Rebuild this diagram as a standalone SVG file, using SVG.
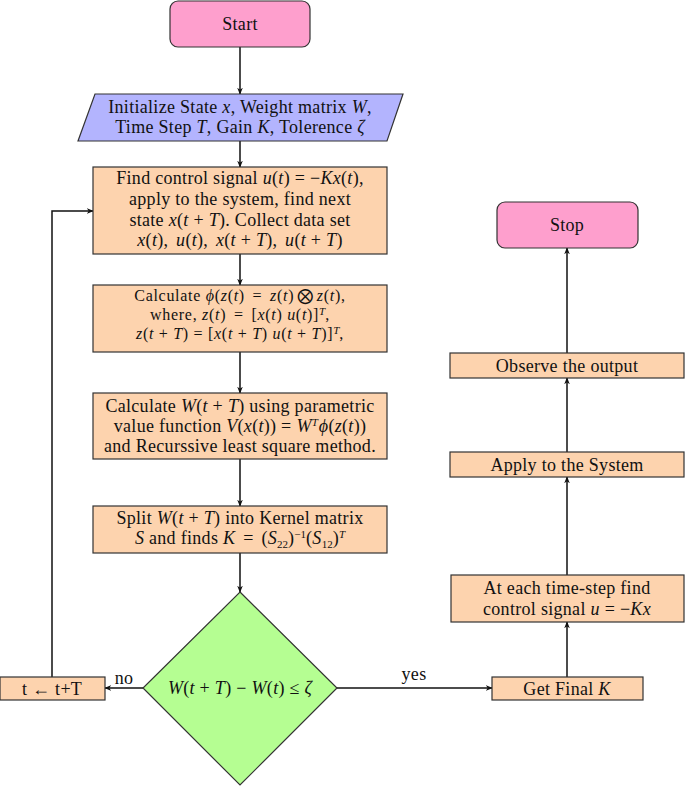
<svg xmlns="http://www.w3.org/2000/svg" width="685" height="786" viewBox="0 0 685 786">
<style>
text{font-family:"Liberation Serif","Times New Roman",serif;font-size:18px;fill:#111;text-anchor:middle;letter-spacing:0.3px}
.m{font-size:16px;letter-spacing:0.7px}
.i{font-style:italic}
.s{font-size:11px;letter-spacing:0}
.box{fill:#fdd3ae;stroke:#333;stroke-width:1.2}
.term{fill:#fe9fcd;stroke:#333;stroke-width:1.2}
.io{fill:#b3b4fe;stroke:#333;stroke-width:1.2}
.dec{fill:#b5fe92;stroke:#333;stroke-width:1.2}
.c{fill:none;stroke:#111;stroke-width:1.5}
</style>
<defs>
<marker id="ah" viewBox="0 0 10 10" refX="9" refY="5" markerWidth="7" markerHeight="7" orient="auto" markerUnits="userSpaceOnUse">
<path d="M0,1 L10,5 L0,9 L3,5 Z" fill="#111"/>
</marker>
</defs>
<g id="connectors">
<line class="c" x1="240" y1="47" x2="240" y2="94" marker-end="url(#ah)"/>
<line class="c" x1="240" y1="141" x2="240" y2="167" marker-end="url(#ah)"/>
<line class="c" x1="240" y1="254" x2="240" y2="285" marker-end="url(#ah)"/>
<line class="c" x1="240" y1="352" x2="240" y2="393" marker-end="url(#ah)"/>
<line class="c" x1="240" y1="459" x2="240" y2="506" marker-end="url(#ah)"/>
<line class="c" x1="240" y1="553" x2="240" y2="592" marker-end="url(#ah)"/>
<line class="c" x1="143" y1="688" x2="105" y2="688" marker-end="url(#ah)"/>
<polyline class="c" points="52,677 52,211 93,211" marker-end="url(#ah)"/>
<line class="c" x1="337" y1="688" x2="492" y2="688" marker-end="url(#ah)"/>
<line class="c" x1="567" y1="677" x2="567" y2="622" marker-end="url(#ah)"/>
<line class="c" x1="567" y1="575" x2="567" y2="477" marker-end="url(#ah)"/>
<line class="c" x1="567" y1="452" x2="567" y2="378" marker-end="url(#ah)"/>
<line class="c" x1="567" y1="353" x2="567" y2="248" marker-end="url(#ah)"/>
<text x="124" y="684">no</text>
<text x="414" y="680">yes</text>
</g>
<g id="start">
<rect class="term" x="170" y="1" width="140" height="46" rx="8"/>
<text x="240" y="30">Start</text>
</g>
<g id="init">
<polygon class="io" points="95,94 403,94 387,141 78,141"/>
<text x="240" y="113">Initialize State <tspan class="i">x</tspan>, Weight matrix <tspan class="i">W</tspan>,</text>
<text x="240" y="133">Time Step <tspan class="i">T</tspan>, Gain <tspan class="i">K</tspan>, Tolerence <tspan class="i">ζ</tspan></text>
</g>
<g id="control">
<rect class="box" x="93" y="167" width="294" height="87"/>
<text x="240" y="184">Find control signal <tspan class="i">u</tspan>(<tspan class="i">t</tspan>) = −<tspan class="i">Kx</tspan>(<tspan class="i">t</tspan>),</text>
<text x="240" y="205">apply to the system, find next</text>
<text x="240" y="226">state <tspan class="i">x</tspan>(<tspan class="i">t</tspan> + <tspan class="i">T</tspan>). Collect data set</text>
<text x="240" y="246"><tspan class="i">x</tspan>(<tspan class="i">t</tspan>), <tspan class="i" dx="3">u</tspan>(<tspan class="i">t</tspan>), <tspan class="i" dx="3">x</tspan>(<tspan class="i">t</tspan> + <tspan class="i">T</tspan>), <tspan class="i" dx="3">u</tspan>(<tspan class="i">t</tspan> + <tspan class="i">T</tspan>)</text>
</g>
<g id="phi">
<rect class="box" x="93" y="285" width="294" height="67"/>
<text class="m" x="240" y="301">Calculate <tspan class="i">ϕ</tspan>(<tspan class="i">z</tspan>(<tspan class="i">t</tspan>) <tspan dx="3">=</tspan> <tspan class="i" dx="3">z</tspan>(<tspan class="i">t</tspan>)<tspan font-family="DejaVu Sans,sans-serif" font-size="16" dx="3">⨂</tspan><tspan class="i" dx="3">z</tspan>(<tspan class="i">t</tspan>),</text>
<text class="m" x="240" y="319.5">where, <tspan class="i">z</tspan>(<tspan class="i">t</tspan>) <tspan dx="3">=</tspan> <tspan dx="3">[</tspan><tspan class="i">x</tspan>(<tspan class="i">t</tspan>) <tspan class="i">u</tspan>(<tspan class="i">t</tspan>)]<tspan class="i s" dy="-5">T</tspan><tspan dy="5">,</tspan></text>
<text class="m" x="240" y="338.5"><tspan class="i">z</tspan>(<tspan class="i">t</tspan> + <tspan class="i">T</tspan>) = [<tspan class="i">x</tspan>(<tspan class="i">t</tspan> + <tspan class="i">T</tspan>) <tspan class="i">u</tspan>(<tspan class="i">t</tspan> + <tspan class="i">T</tspan>)]<tspan class="i s" dy="-5">T</tspan><tspan dy="5">,</tspan></text>
</g>
<g id="calcW">
<rect class="box" x="93" y="393" width="294" height="66"/>
<text x="240" y="412">Calculate <tspan class="i">W</tspan>(<tspan class="i">t</tspan> + <tspan class="i">T</tspan>) using parametric</text>
<text x="240" y="432">value function <tspan class="i">V</tspan>(<tspan class="i">x</tspan>(<tspan class="i">t</tspan>)) = <tspan class="i">W</tspan><tspan class="i s" dy="-6">T</tspan><tspan class="i" dy="6" dx="1">ϕ</tspan>(<tspan class="i">z</tspan>(<tspan class="i">t</tspan>))</text>
<text x="240" y="452">and Recurssive least square method.</text>
</g>
<g id="split">
<rect class="box" x="93" y="506" width="294" height="47"/>
<text x="240" y="524">Split <tspan class="i">W</tspan>(<tspan class="i">t</tspan> + <tspan class="i">T</tspan>) into Kernel matrix</text>
<text x="240" y="544"><tspan class="i">S</tspan> and finds <tspan class="i">K</tspan> <tspan dx="3">=</tspan> <tspan dx="3">(</tspan><tspan class="i">S</tspan><tspan class="s" dy="4">22</tspan><tspan dy="-4">)</tspan><tspan class="s" dy="-6">−1</tspan><tspan dy="6">(</tspan><tspan class="i">S</tspan><tspan class="s" dy="4">12</tspan><tspan dy="-4">)</tspan><tspan class="i s" dy="-6">T</tspan></text>
</g>
<g id="decision">
<polygon class="dec" points="240,592 337,688 240,785 143,688"/>
<text x="240" y="694"><tspan class="i">W</tspan>(<tspan class="i">t</tspan> + <tspan class="i">T</tspan>) − <tspan class="i">W</tspan>(<tspan class="i">t</tspan>) ≤ <tspan class="i">ζ</tspan></text>
</g>
<g id="increment">
<rect class="box" x="0" y="677" width="105" height="23"/>
<text x="52" y="695">t ← t+T</text>
</g>
<g id="finalK">
<rect class="box" x="492" y="677" width="151" height="23"/>
<text x="567" y="695">Get Final <tspan class="i">K</tspan></text>
</g>
<g id="eachstep">
<rect class="box" x="451" y="575" width="233" height="47"/>
<text x="567" y="594">At each time-step find</text>
<text x="567" y="615">control signal <tspan class="i">u</tspan> = −<tspan class="i">Kx</tspan></text>
</g>
<g id="apply">
<rect class="box" x="450" y="452" width="234" height="25"/>
<text x="567" y="471">Apply to the System</text>
</g>
<g id="observe">
<rect class="box" x="450" y="353" width="234" height="25"/>
<text x="567" y="372">Observe the output</text>
</g>
<g id="stop">
<rect class="term" x="497" y="202" width="141" height="46" rx="8"/>
<text x="567" y="231">Stop</text>
</g>
</svg>
